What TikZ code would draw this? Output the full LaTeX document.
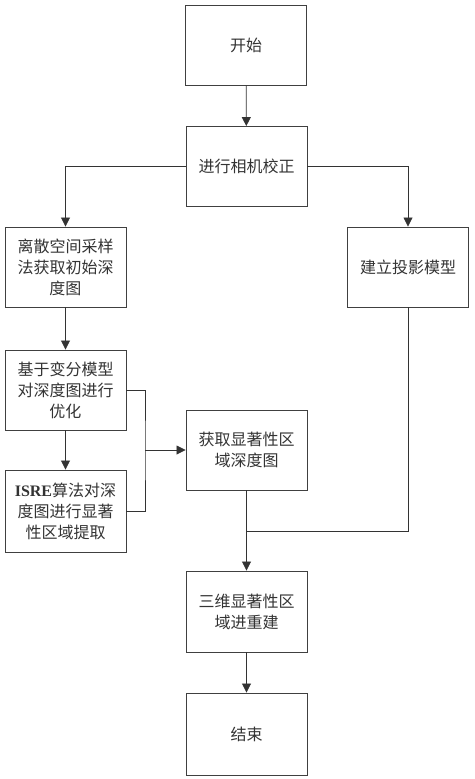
\documentclass[tikz,border=0pt]{standalone}
\usepackage{fontspec}
\setmainfont{Liberation Serif}
\newfontfamily\cjk{Noto Sans CJK SC}
\usetikzlibrary{arrows.meta}
\begin{document}
\begin{tikzpicture}[x=1pt,y=-1pt,
  box/.style={draw=black!75,line width=0.9pt,minimum width=121pt,minimum height=80pt,
    inner sep=2pt,align=center,font=\cjk\fontsize{16}{21}\selectfont,text=black!80},
  conn/.style={draw=black!80,line width=0.8pt},
  arr/.style={conn,-{Triangle[length=9pt,width=9pt]}}]
\useasboundingbox (0,0) rectangle (474,779);
\node[box] (start) at (246,45) {开始};
\node[box] (cam) at (246.5,166.5) {进行相机校正};
\node[box] (disc) at (65.5,267) {离散空间采样\\法获取初始深\\度图};
\node[box] (proj) at (408,267) {建立投影模型};
\node[box] (var) at (65.5,390) {基于变分模型\\对深度图进行\\优化};
\node[box,minimum height=82pt] (isre) at (65.5,511) {{\rmfamily\bfseries ISRE}算法对深\\度图进行显著\\性区域提取};
\node[box] (sal) at (246.5,450) {获取显著性区\\域深度图};
\node[box,minimum height=81pt] (rec) at (246.5,611.5) {三维显著性区\\域进重建};
\node[box,minimum height=82pt] (fin) at (246.5,734) {结束};
\coordinate (br) at (145,450);
\coordinate (mg) at (246.5,531);
\draw[arr] (start) -- (cam);
\draw[arr] (cam.west) -| (disc.north);
\draw[arr] (cam.east) -| (proj.north);
\draw[arr] (disc) -- (var);
\draw[arr] (var) -- (isre);
\draw[conn] (var.east) -| (br) |- (isre.east);
\draw[arr] (br) -- (sal.west);
\draw[conn] (proj.south) |- (mg);
\draw[arr] (sal) -- (rec);
\draw[arr] (rec) -- (fin);
\end{tikzpicture}
\end{document}
